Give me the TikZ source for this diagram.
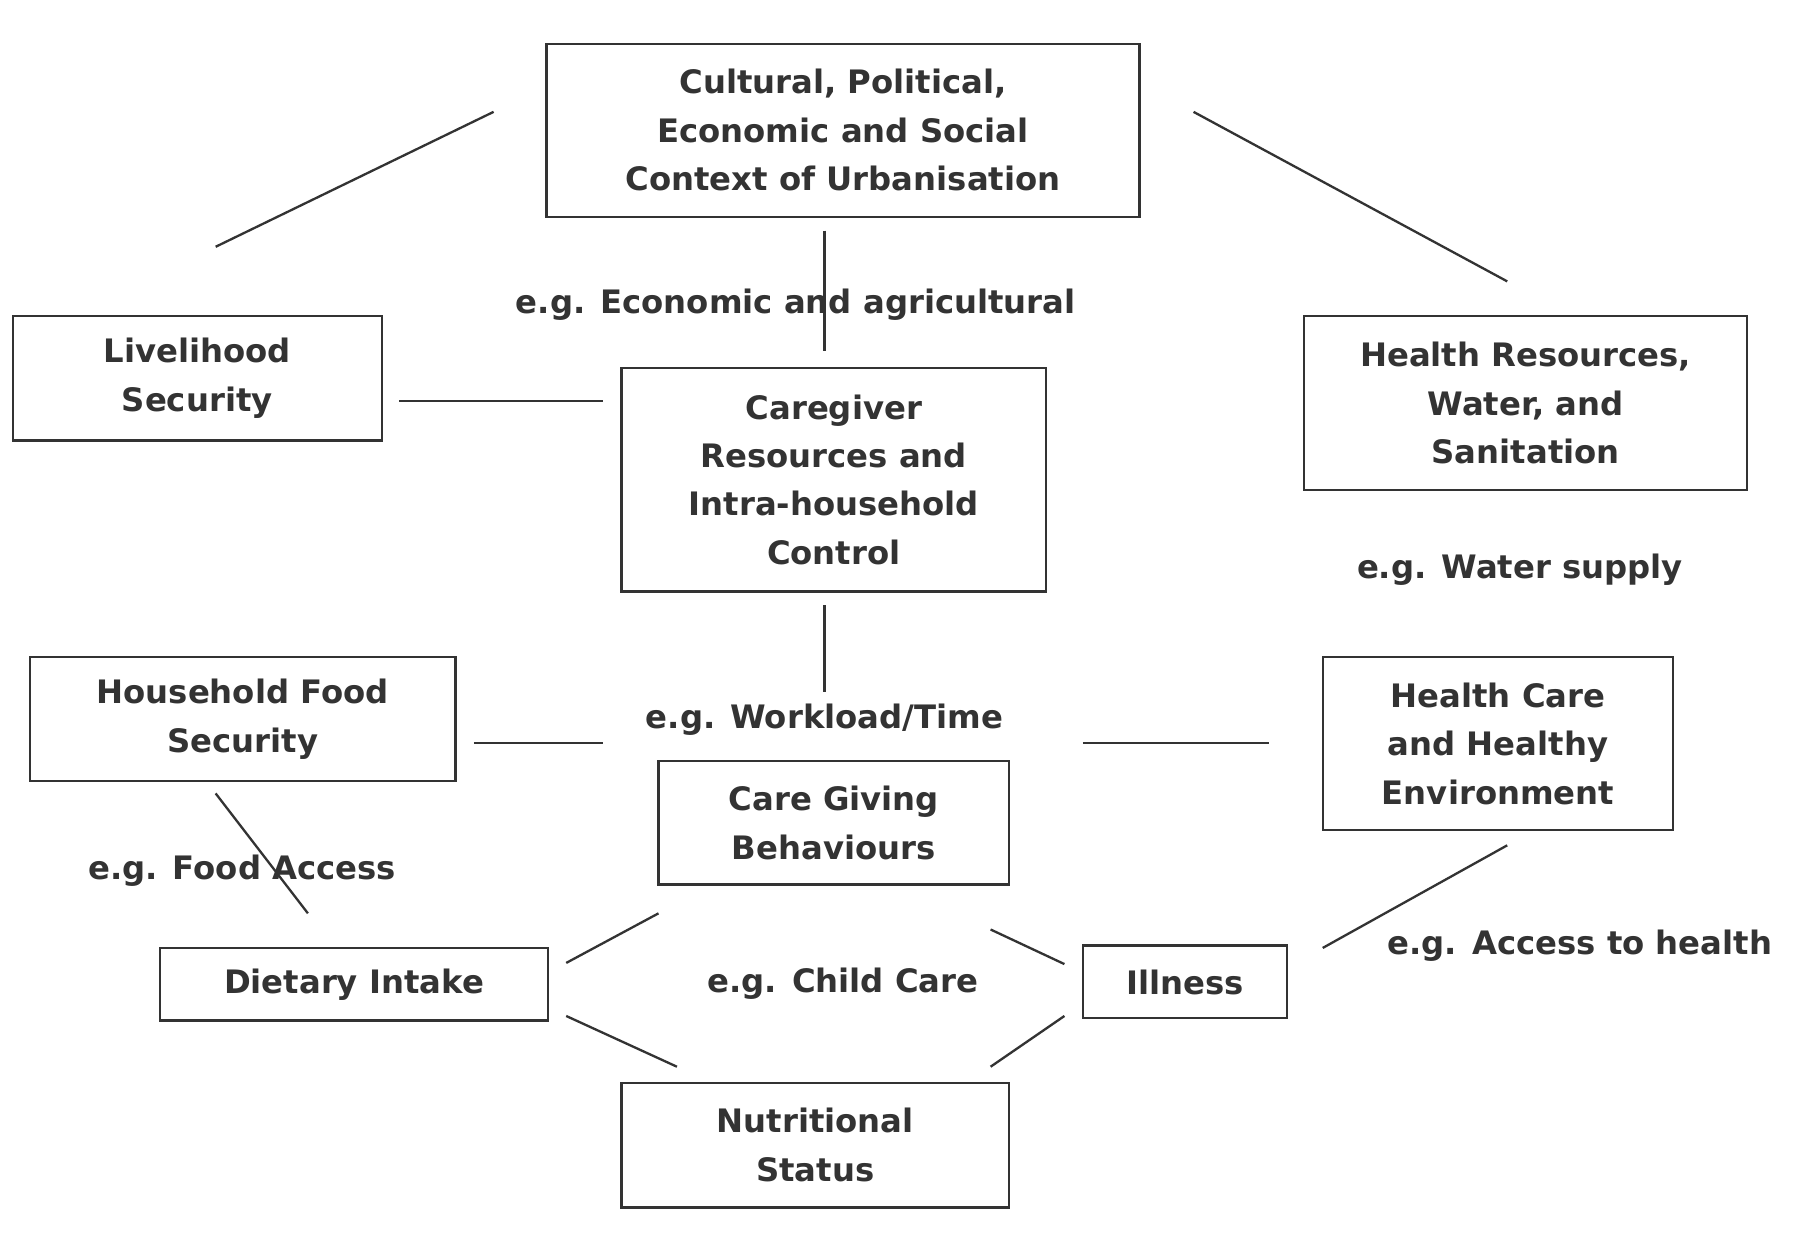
\documentclass[tikz,border=0pt]{standalone}
\usepackage{fontspec}
\setmainfont{DejaVu Sans}
\begin{document}
\begin{tikzpicture}[x=0.5pt,y=-0.5pt,
  every node/.style={font=\bfseries\fontsize{14}{21}\selectfont, text=fg, align=center, inner sep=0pt},
  box/.style={draw=fg, line width=1pt, rectangle},
  ln/.style={draw=fg, line width=1pt}]
\definecolor{fg}{HTML}{333333}
\useasboundingbox[fill=white] (0,0) rectangle (1560,1077);
\node[box, minimum width=257pt, minimum height=75pt] (ctx) at (731,113) {Cultural, Political,\\Economic and Social\\Context of Urbanisation};
\node[box, minimum width=160pt, minimum height=54pt] (liv) at (171,328) {Livelihood\\Security};
\node[box, minimum width=184pt, minimum height=97pt] (cg) at (723,416) {Caregiver\\Resources and\\Intra-household\\Control};
\node[box, minimum width=192pt, minimum height=75.5pt] (hr) at (1323,349.5) {Health Resources,\\Water, and\\Sanitation};
\node[box, minimum width=184.5pt, minimum height=53.5pt] (hfs) at (210.5,623.5) {Household Food\\Security};
\node[box, minimum width=152pt, minimum height=53.5pt] (cgb) at (723,713.5) {Care Giving\\Behaviours};
\node[box, minimum width=152pt, minimum height=75pt] (hc) at (1299,645) {Health Care\\and Healthy\\Environment};
\node[box, minimum width=168pt, minimum height=31.5pt] (di) at (307,853.5) {Dietary Intake};
\node[box, minimum width=88.5pt, minimum height=31.5pt] (ill) at (1027.5,851.5) {Illness};
\node[box, minimum width=168pt, minimum height=54pt] (ns) at (707,993) {Nutritional\\Status};

\node (l1) at (690,264) {e.g. Economic and agricultural};
\node (l2) at (1318,494) {e.g. Water supply};
\node (l3) at (715,624) {e.g. Workload/Time};
\node (l4) at (210,755) {e.g. Food Access};
\node (l5) at (1370,820) {e.g. Access to health};
\node (l6) at (731,853) {e.g. Child Care};

\coordinate (a1) at (428,97); \coordinate (a2) at (187,214);
\coordinate (b1) at (1035,97); \coordinate (b2) at (1307,244);
\coordinate (c1) at (715,200); \coordinate (c2) at (715,304);
\coordinate (d1) at (346,348); \coordinate (d2) at (523,348);
\coordinate (e1) at (715,525); \coordinate (e2) at (715,600);
\coordinate (f1) at (411,644); \coordinate (f2) at (523,644);
\coordinate (g1) at (939,644); \coordinate (g2) at (1100,644);
\coordinate (h1) at (187,688); \coordinate (h2) at (267,792);
\coordinate (i1) at (1307,733); \coordinate (i2) at (1147,822);
\coordinate (j1) at (491,835); \coordinate (j2) at (571,792);
\coordinate (k1) at (859,806); \coordinate (k2) at (923,836);
\coordinate (m1) at (491,881); \coordinate (m2) at (587,925);
\coordinate (n1) at (859,925); \coordinate (n2) at (923,881);
\foreach \p in {a,b,c,d,e,f,g,h,i,j,k,m,n} \draw[ln] (\p1) -- (\p2);
\end{tikzpicture}
\end{document}
